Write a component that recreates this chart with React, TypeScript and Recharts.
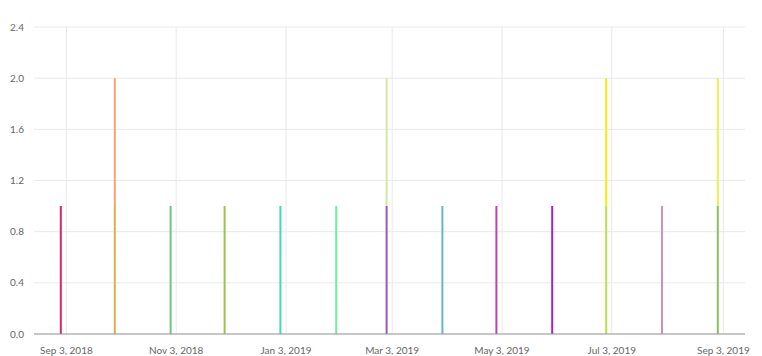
import { BarChart, Bar, XAxis, YAxis, CartesianGrid, Cell } from 'recharts'

// month-end entries
const dates = [
  '2018-08-31', '2018-09-30', '2018-10-31', '2018-11-30', '2018-12-31', '2019-01-31', '2019-02-28',
  '2019-03-31', '2019-04-30', '2019-05-31', '2019-06-30', '2019-07-31', '2019-08-31',
]
const baseValues = [1, 1, 1, 1, 1, 1, 1, 1, 1, 1, 1, 1, 1]
const extraValues = [0, 1, 0, 0, 0, 0, 1, 0, 0, 0, 1, 0, 1]
const baseColors = [
  '#e0245e', '#dcb048', '#6cc784', '#9bc34a', '#3ddbb8', '#6cf0a0', '#9b59b6',
  '#62bcbc', '#c040b0', '#a020e0', '#b8e04a', '#d090c0', '#88c060',
]
const extraColors = [
  '#ffffff', '#f9a26c', '#ffffff', '#ffffff', '#ffffff', '#ffffff', '#d4e8a0',
  '#ffffff', '#ffffff', '#ffffff', '#f0f000', '#ffffff', '#e8f050',
]
const xTicks = ['2018-09-03', '2018-11-03', '2019-01-03', '2019-03-03', '2019-05-03', '2019-07-03', '2019-09-03']
const yTicks = [0, 0.4, 0.8, 1.2, 1.6, 2.0, 2.4]
const xDomain = ['2018-08-16', '2019-09-15']

const MONTHS = ['Jan', 'Feb', 'Mar', 'Apr', 'May', 'Jun', 'Jul', 'Aug', 'Sep', 'Oct', 'Nov', 'Dec']

const toTs = (s: string) => {
  const [y, m, d] = s.split('-').map(Number)
  return Date.UTC(y, m - 1, d)
}

const fmtDate = (ts: number) => {
  const d = new Date(ts)
  return `${MONTHS[d.getUTCMonth()]} ${d.getUTCDate()}, ${d.getUTCFullYear()}`
}

const data = dates.map((d, i) => ({
  t: toTs(d),
  base: baseValues[i],
  extra: extraValues[i],
}))

const tickStyle = { fontSize: 10, fill: '#666', fontFamily: 'Lato, sans-serif' }

// only draw vertical grid lines at the date ticks, not at the plot edges
const verticalGen = ({ xAxis, offset }: any) => {
  const [d0, d1] = xDomain.map(toTs)
  if (xAxis && typeof xAxis.scale === 'function') {
    return xTicks.map(t => xAxis.scale(toTs(t)))
  }
  return xTicks.map(t => offset.left + ((toTs(t) - d0) / (d1 - d0)) * offset.width)
}

export default function App() {
  return (
    <BarChart width={754} height={348} data={data} margin={{ top: 19, right: 17, left: 0, bottom: 0 }}>
      <CartesianGrid stroke="#e6e9ed" verticalCoordinatesGenerator={verticalGen} />
      <XAxis
        dataKey="t"
        type="number"
        scale="linear"
        domain={xDomain.map(toTs)}
        ticks={xTicks.map(toTs)}
        tickFormatter={fmtDate}
        tick={tickStyle}
        tickLine={false}
        tickMargin={7}
        axisLine={{ stroke: '#999' }}
        height={22}
        allowDataOverflow
      />
      <YAxis
        domain={[0, 2.4]}
        ticks={yTicks}
        tickFormatter={v => Number(v).toFixed(1)}
        tick={tickStyle}
        tickLine={false}
        tickMargin={4}
        axisLine={false}
        width={26}
      />
      <Bar dataKey="base" stackId="a" barSize={2} isAnimationActive={false}>
        {data.map((_, i) => <Cell key={i} fill={baseColors[i]} />)}
      </Bar>
      <Bar dataKey="extra" stackId="a" barSize={2} isAnimationActive={false}>
        {data.map((_, i) => <Cell key={i} fill={extraColors[i]} />)}
      </Bar>
    </BarChart>
  )
}
